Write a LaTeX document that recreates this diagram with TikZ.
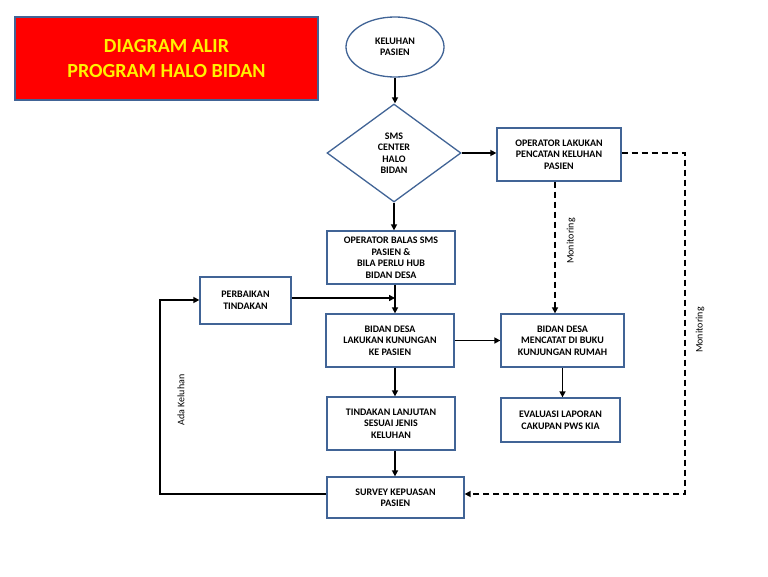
\documentclass[tikz,border=0pt]{standalone}
\usepackage{fontspec}
\setmainfont{Carlito}
\usetikzlibrary{shapes.geometric,arrows.meta}
\definecolor{bd}{RGB}{65,100,150}
\begin{document}
\begin{tikzpicture}[x=1pt,y=-1pt,
  box/.style={draw=bd,line width=1.3pt,fill=white,align=center,font=\bfseries\fontsize{10}{11.5}\selectfont,inner sep=1pt},
  arr/.style={line width=1.6pt,-{Triangle[length=6pt,width=6pt]}},
  darr/.style={line width=1.6pt,dash pattern=on 6pt off 4pt,-{Triangle[length=6pt,width=6pt]}},
  lbl/.style={font=\fontsize{10}{12}\selectfont,rotate=90}]
\useasboundingbox (0,0) rectangle (768,576);
\node[draw=bd,line width=1.3pt,fill=red,minimum width=303pt,minimum height=83pt,align=center,text=yellow,font=\bfseries\fontsize{20}{25}\selectfont] (title) at (166.5,58.5) {DIAGRAM ALIR\\PROGRAM HALO BIDAN};
\node[box,ellipse,minimum width=98pt,minimum height=60pt] (kel) at (395,47) {KELUHAN\\PASIEN};
\node[box,diamond,minimum width=134pt,minimum height=98pt,aspect=1.37,inner sep=0pt] (sms) at (394,153) {SMS\\CENTER\\HALO\\BIDAN};
\node[box,minimum width=124pt,minimum height=53pt] (opl) at (559,154.5) {OPERATOR LAKUKAN\\PENCATAN KELUHAN\\PASIEN};
\node[box,minimum width=128pt,minimum height=53pt] (opb) at (391,257.5) {OPERATOR BALAS SMS\\PASIEN \&\\BILA PERLU HUB\\BIDAN DESA};
\node[box,minimum width=91pt,minimum height=47pt] (perb) at (245.5,300.5) {PERBAIKAN\\TINDAKAN};
\node[box,minimum width=128pt,minimum height=53pt] (bdl) at (390,340.5) {BIDAN DESA\\LAKUKAN KUNUNGAN\\KE PASIEN};
\node[box,minimum width=123pt,minimum height=53pt] (bdm) at (562.5,340.5) {BIDAN DESA\\MENCATAT DI BUKU\\KUNJUNGAN RUMAH};
\node[box,minimum width=128pt,minimum height=53pt] (tl) at (391,423.5) {TINDAKAN LANJUTAN\\SESUAI  JENIS\\KELUHAN};
\node[box,minimum width=119pt,minimum height=44pt] (ev) at (560.5,420) {EVALUASI LAPORAN\\CAKUPAN PWS KIA};
\node[box,minimum width=137pt,minimum height=41pt] (sv) at (395.5,497.5) {SURVEY KEPUASAN\\PASIEN};
\coordinate (j) at (395,298);
\draw[arr] (kel.south) -- (kel.south |- sms.north);
\draw[arr] (sms.south) -- (sms.south |- opb.north);
\draw[arr] (sms.east) -- (opl.west |- sms.east);
\draw[arr] (opb.south -| j) -- (bdl.north -| j);
\draw[arr] (perb.east |- j) -- (j);
\draw[arr] (bdl.east) -- (bdl.east -| bdm.west);
\draw[arr] (bdl.south -| j) -- (tl.north -| j);
\draw[arr] (tl.south -| j) -- (sv.north -| j);
\draw[arr] (bdm.south) -- (ev.north -| bdm.south);
\draw[darr] (opl.south -| 555,0) -- (bdm.north -| 555,0);
\node[lbl] (m1) at (571,241) {Monitoring};
\draw[darr] (opl.east |- 0,153) -- (685,153) -- (685,494) -- (sv.east |- 0,494);
\node[lbl] (m2) at (700,330) {Monitoring};
\draw[arr] (sv.west |- 0,494) -- (160,494) -- (160,300) -- (perb.west |- 0,300);
\node[lbl] (ak) at (181,400) {Ada Keluhan};
\end{tikzpicture}
\end{document}
